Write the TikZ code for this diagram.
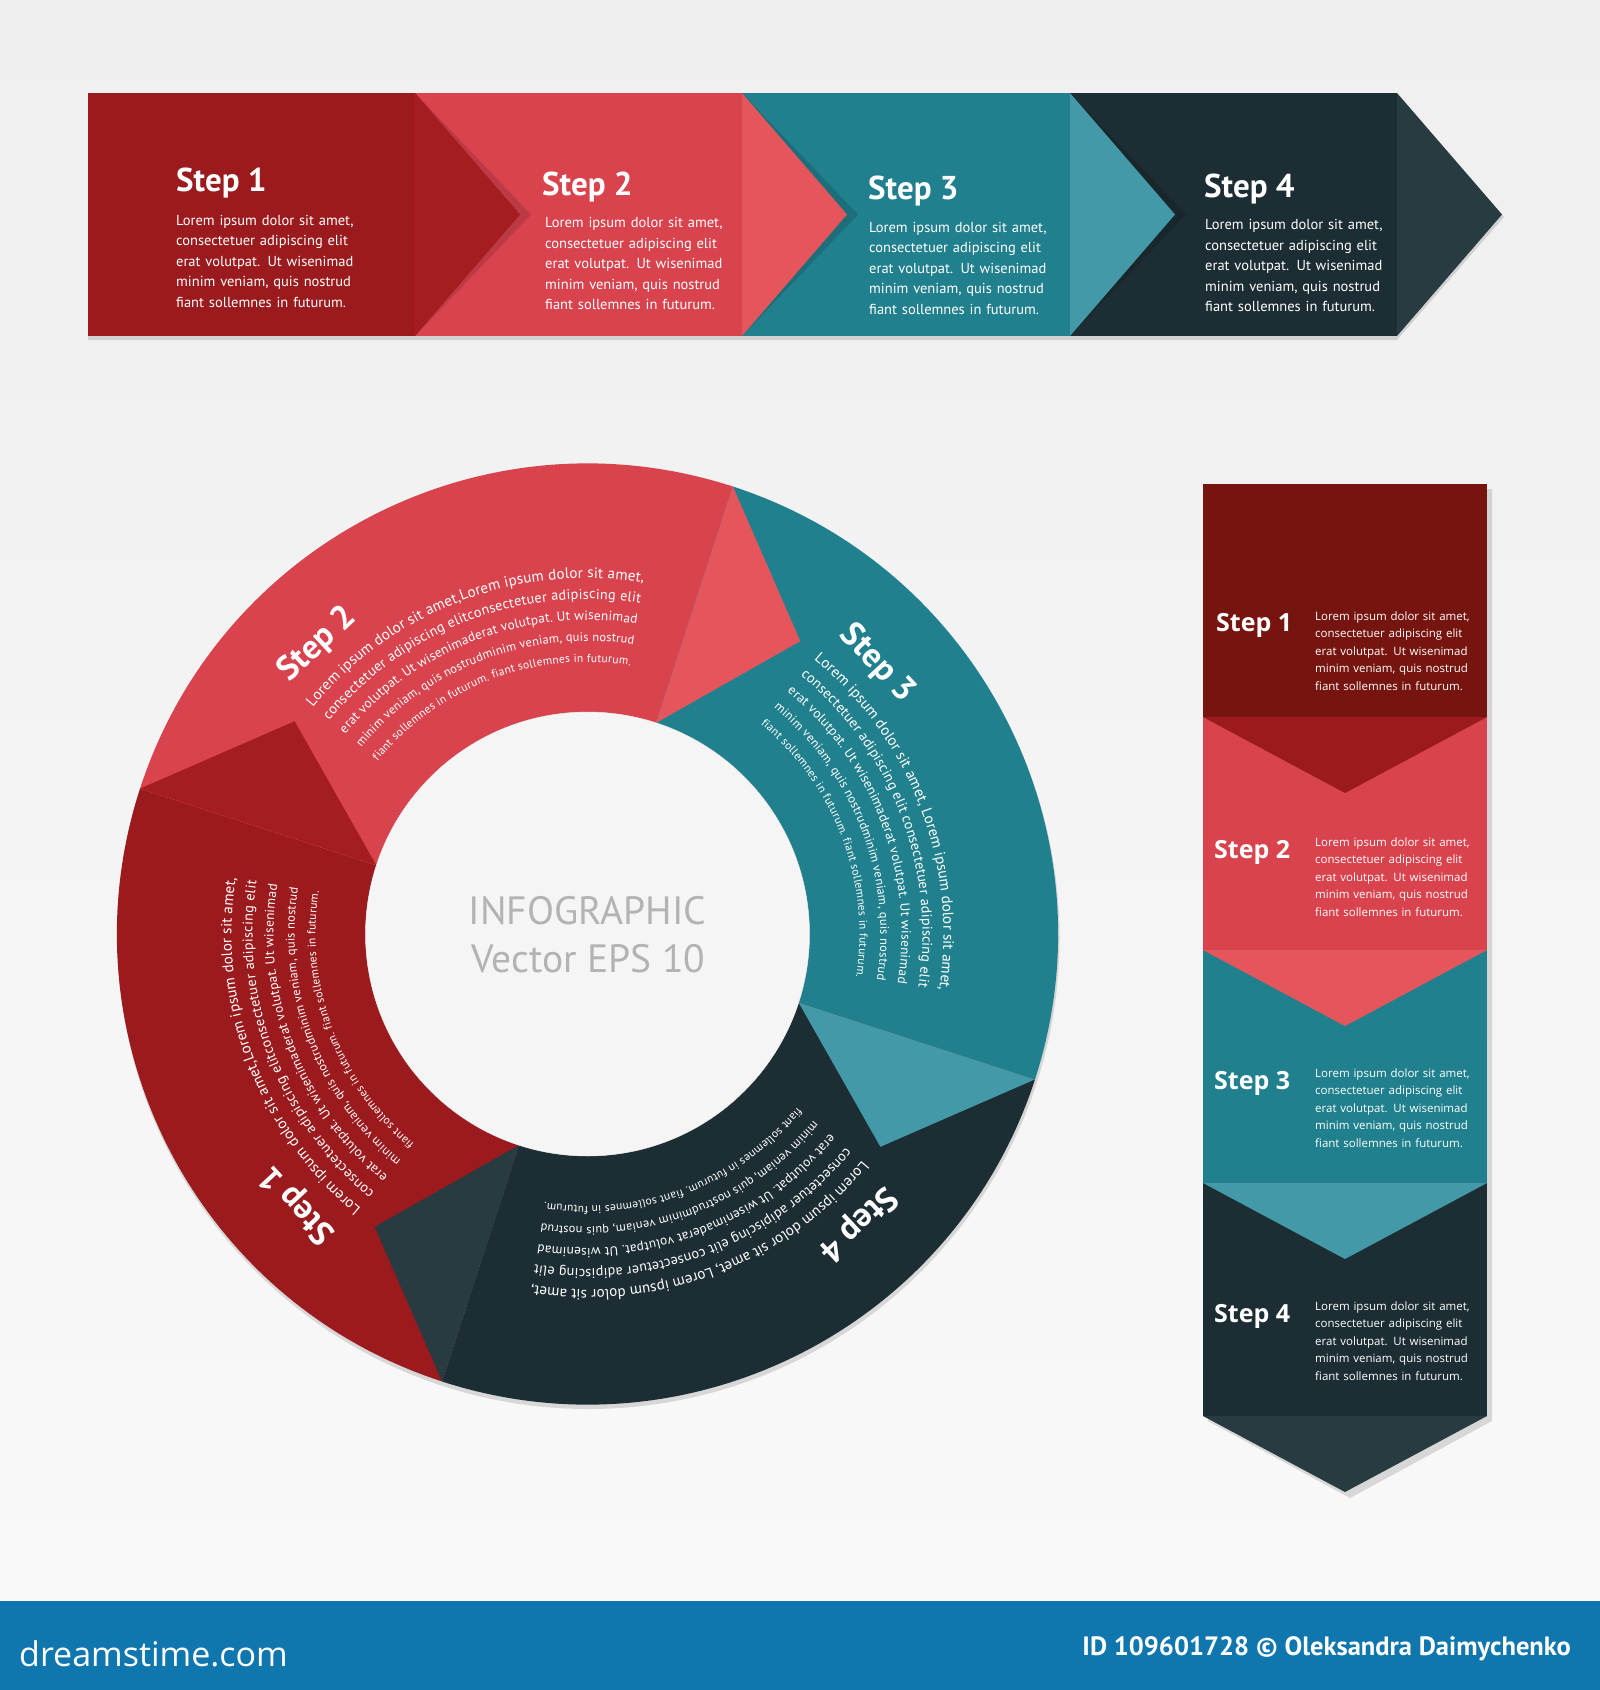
\documentclass[tikz,border=0pt]{standalone}
\usepackage{fontspec}
\setmainfont{PT Sans}
\newfontfamily\ribbonfont{Open Sans}
\usetikzlibrary{decorations.text}

\definecolor{bgtop}{HTML}{EFEFEF}
\definecolor{bgbottom}{HTML}{F9F9F9}
\definecolor{stepred}{HTML}{9B1A1D}
\definecolor{stepredarrow}{HTML}{A51D21}
\definecolor{stepmaroon}{HTML}{76150F}
\definecolor{steppink}{HTML}{D8434E}
\definecolor{steppinkarrow}{HTML}{E5565C}
\definecolor{stepteal}{HTML}{21808D}
\definecolor{steptealarrow}{HTML}{4499A8}
\definecolor{stepdark}{HTML}{1C2D33}
\definecolor{stepdarkarrow}{HTML}{283B40}
\definecolor{footerblue}{HTML}{1076AE}
\definecolor{centergray}{HTML}{B3B3B3}

\newcommand\lorem{Lorem ipsum dolor sit amet,\\consectetuer adipiscing elit\\erat volutpat. Ut wisenimad\\minim veniam, quis nostrud\\fiant sollemnes in futurum.}

\begin{document}
\begin{tikzpicture}[x=1pt,y=1pt,
    bartitle/.style={anchor=base west, inner sep=0pt, text=white, font=\bfseries\fontsize{33}{33}\selectfont},
    barbody/.style={anchor=base west, inner sep=0pt, text=white, text width=220pt, align=left, font=\fontsize{14.5}{20.5}\selectfont},
    ribtitle/.style={anchor=base west, inner sep=0pt, text=white, font=\ribbonfont\bfseries\fontsize{25}{25}\selectfont},
    ribbody/.style={anchor=base west, inner sep=0pt, text=white, text width=180pt, align=left, font=\ribbonfont\fontsize{11.5}{17.6}\selectfont},
    ringlabel/.style={inner sep=0pt, text=white, font=\bfseries\fontsize{34}{34}\selectfont},
    ringtext/.style={decorate, decoration={text along path, text align={fit to path}}},
    shadowgray/.style={fill=black, fill opacity=0.13}]

    % background
    \useasboundingbox (0,0) rectangle (1600,-1690);
    \shade [top color=bgtop, bottom color=bgbottom] (0,0) rectangle (1600,-1601);

    %Shape: Polygon (banner shadow)
    \fill [shadowgray] (88,-97) -- (1397,-97) -- (1504,-217) -- (1397,-340) -- (88,-340) -- cycle;
    %Shape: Rectangle
    \fill [stepred] (88,-93) rectangle (415,-336);
    %Shape: Rectangle
    \fill [steppink] (415,-93) rectangle (742,-336);
    %Shape: Rectangle
    \fill [stepteal] (742,-93) rectangle (1070,-336);
    %Shape: Rectangle
    \fill [stepdark] (1070,-93) rectangle (1397,-336);
    %Shape: Polygon (arrow shadows)
    \fill [shadowgray] (415,-93) -- (531,-214.5) -- (415,-336) -- cycle;
    \fill [shadowgray] (742,-93) -- (858,-214.5) -- (742,-336) -- cycle;
    \fill [shadowgray] (1070,-93) -- (1186,-214.5) -- (1070,-336) -- cycle;
    %Shape: Polygon
    \fill [stepredarrow] (415,-93) -- (520,-214.5) -- (415,-336) -- cycle;
    %Shape: Polygon
    \fill [steppinkarrow] (742,-93) -- (847,-214.5) -- (742,-336) -- cycle;
    %Shape: Polygon
    \fill [steptealarrow] (1070,-93) -- (1175,-214.5) -- (1070,-336) -- cycle;
    %Shape: Polygon
    \fill [stepdarkarrow] (1397,-93) -- (1502,-214.5) -- (1397,-336) -- cycle;

    % Text Node
    \node (bartitle1) [bartitle] at (176,-191) {Step 1};
    % Text Node
    \node (barbody1) [barbody] at (176,-225) {\lorem};
    % Text Node
    \node (bartitle2) [bartitle] at (542,-195) {Step 2};
    % Text Node
    \node (barbody2) [barbody] at (545,-227.5) {\lorem};
    % Text Node
    \node (bartitle3) [bartitle] at (868,-199.5) {Step 3};
    % Text Node
    \node (barbody3) [barbody] at (869,-232) {\lorem};
    % Text Node
    \node (bartitle4) [bartitle] at (1204,-197) {Step 4};
    % Text Node
    \node (barbody4) [barbody] at (1205,-229.5) {\lorem};

    %Shape: Polygon (ribbon shadow)
    \fill [shadowgray] (1208,-489) -- (1492,-489) -- (1492,-1421) -- (1350,-1498) -- (1208,-1421) -- cycle;
    %Shape: Rectangle
    \fill [stepmaroon] (1203,-484) rectangle (1487,-717);
    %Shape: Rectangle
    \fill [steppink] (1203,-717) rectangle (1487,-950);
    %Shape: Rectangle
    \fill [stepteal] (1203,-950) rectangle (1487,-1183);
    %Shape: Rectangle
    \fill [stepdark] (1203,-1183) rectangle (1487,-1416);
    %Shape: Polygon
    \fill [stepred] (1203,-717) -- (1345,-793) -- (1487,-717) -- cycle;
    %Shape: Polygon
    \fill [steppinkarrow] (1203,-950) -- (1345,-1026) -- (1487,-950) -- cycle;
    %Shape: Polygon
    \fill [steptealarrow] (1203,-1183) -- (1345,-1259) -- (1487,-1183) -- cycle;
    %Shape: Polygon
    \fill [stepdarkarrow] (1203,-1416) -- (1345,-1492) -- (1487,-1416) -- cycle;

    % Text Node
    \node (ribtitle1) [ribtitle] at (1216,-631) {Step 1};
    % Text Node
    \node (ribbody1) [ribbody] at (1315,-620) {\lorem};
    % Text Node
    \node (ribtitle2) [ribtitle] at (1214,-858) {Step 2};
    % Text Node
    \node (ribbody2) [ribbody] at (1315,-846) {\lorem};
    % Text Node
    \node (ribtitle3) [ribtitle] at (1214,-1089) {Step 3};
    % Text Node
    \node (ribbody3) [ribbody] at (1315,-1077) {\lorem};
    % Text Node
    \node (ribtitle4) [ribtitle] at (1214,-1322) {Step 4};
    % Text Node
    \node (ribbody4) [ribbody] at (1315,-1310) {\lorem};

    \begin{scope}[shift={(587.5,-934)}]
    %Shape: Circle (ring shadow)
    \fill [shadowgray] (1,-4) circle [radius=471];
    %Shape: Ring sector
    \fill [stepred] (162:470.5) arc [start angle=162, end angle=252, radius=470.5] -- (252:222) arc [start angle=252, end angle=162, radius=222] -- cycle;
    %Shape: Ring sector
    \fill [steppink] (72:470.5) arc [start angle=72, end angle=162, radius=470.5] -- (162:222) arc [start angle=162, end angle=72, radius=222] -- cycle;
    %Shape: Ring sector
    \fill [stepteal] (-18:470.5) arc [start angle=-18, end angle=72, radius=470.5] -- (72:222) arc [start angle=72, end angle=-18, radius=222] -- cycle;
    %Shape: Ring sector
    \fill [stepdark] (-108:470.5) arc [start angle=-108, end angle=-18, radius=470.5] -- (-18:222) arc [start angle=-18, end angle=-108, radius=222] -- cycle;
    %Shape: Polygon
    \fill [stepredarrow] (162:470.5) -- (144:362) -- (162:222) -- cycle;
    %Shape: Polygon
    \fill [steppinkarrow] (72:470.5) -- (54:362) -- (72:222) -- cycle;
    %Shape: Polygon
    \fill [steptealarrow] (-18:470.5) -- (-36:362) -- (-18:222) -- cycle;
    %Shape: Polygon
    \fill [stepdarkarrow] (-108:470.5) -- (-126:362) -- (-108:222) -- cycle;
    %Shape: Circle
    \fill [bgtop!60!white] (0,0) circle [radius=222];
    \draw [black!12] (0,0) circle [radius=222];

    % Text Node
    \node (ringlabel1) [ringlabel, rotate=133] at (223:396) {Step 1};
    % Text Node
    \node (ringlabel2) [ringlabel, rotate=43] at (133:396) {Step 2};
    % Text Node
    \node (ringlabel3) [ringlabel, rotate=-47] at (43:396) {Step 3};
    % Text Node
    \node (ringlabel4) [ringlabel, rotate=-137] at (-47:396) {Step 4};

    % Curved text, step 1
    \path [ringtext, decoration={text={|\color{white}\fontsize{15.1}{16}\selectfont|Lorem ipsum dolor sit amet,Lorem ipsum dolor sit amet,}}] (230.5:356) arc [start angle=230.5, end angle=171, radius=356];
    \path [ringtext, decoration={text={|\color{white}\fontsize{14.2}{15}\selectfont|consectetuer adipiscing elitconsectetuer adipiscing elit}}] (230.5:335) arc [start angle=230.5, end angle=171, radius=335];
    \path [ringtext, decoration={text={|\color{white}\fontsize{13.3}{14}\selectfont|erat volutpat. Ut wisenimaderat volutpat. Ut wisenimad}}] (230.5:314) arc [start angle=230.5, end angle=171, radius=314];
    \path [ringtext, decoration={text={|\color{white}\fontsize{12.4}{13}\selectfont|minim veniam, quis nostrudminim veniam, quis nostrud}}] (230.5:293) arc [start angle=230.5, end angle=171, radius=293];
    \path [ringtext, decoration={text={|\color{white}\fontsize{11.5}{12}\selectfont|fiant sollemnes in futurum. fiant sollemnes in futurum.}}] (230.5:272) arc [start angle=230.5, end angle=171, radius=272];
    % Curved text, step 2
    \path [ringtext, decoration={text={|\color{white}\fontsize{15.1}{16}\selectfont|Lorem ipsum dolor sit amet,Lorem ipsum dolor sit amet,}}] (140.5:356) arc [start angle=140.5, end angle=81, radius=356];
    \path [ringtext, decoration={text={|\color{white}\fontsize{14.2}{15}\selectfont|consectetuer adipiscing elitconsectetuer adipiscing elit}}] (140.5:335) arc [start angle=140.5, end angle=81, radius=335];
    \path [ringtext, decoration={text={|\color{white}\fontsize{13.3}{14}\selectfont|erat volutpat. Ut wisenimaderat volutpat. Ut wisenimad}}] (140.5:314) arc [start angle=140.5, end angle=81, radius=314];
    \path [ringtext, decoration={text={|\color{white}\fontsize{12.4}{13}\selectfont|minim veniam, quis nostrudminim veniam, quis nostrud}}] (140.5:293) arc [start angle=140.5, end angle=81, radius=293];
    \path [ringtext, decoration={text={|\color{white}\fontsize{11.5}{12}\selectfont|fiant sollemnes in futurum. fiant sollemnes in futurum.}}] (140.5:272) arc [start angle=140.5, end angle=81, radius=272];
    % Curved text, step 3
    \path [ringtext, decoration={text={|\color{white}\fontsize{15.1}{16}\selectfont|Lorem ipsum dolor sit amet, Lorem ipsum dolor sit amet,}}] (50.5:356) arc [start angle=50.5, end angle=-9, radius=356];
    \path [ringtext, decoration={text={|\color{white}\fontsize{14.2}{15}\selectfont|consectetuer adipiscing elit consectetuer adipiscing elit}}] (50.5:335) arc [start angle=50.5, end angle=-9, radius=335];
    \path [ringtext, decoration={text={|\color{white}\fontsize{13.3}{14}\selectfont|erat volutpat. Ut wisenimaderat volutpat. Ut wisenimad}}] (50.5:314) arc [start angle=50.5, end angle=-9, radius=314];
    \path [ringtext, decoration={text={|\color{white}\fontsize{12.4}{13}\selectfont|minim veniam, quis nostrudminim veniam, quis nostrud}}] (50.5:293) arc [start angle=50.5, end angle=-9, radius=293];
    \path [ringtext, decoration={text={|\color{white}\fontsize{11.5}{12}\selectfont|fiant sollemnes in futurum. fiant sollemnes in futurum.}}] (50.5:272) arc [start angle=50.5, end angle=-9, radius=272];
    % Curved text, step 4
    \path [ringtext, decoration={text={|\color{white}\fontsize{15.1}{16}\selectfont|Lorem ipsum dolor sit amet, Lorem ipsum dolor sit amet,}}] (-39.5:356) arc [start angle=-39.5, end angle=-99, radius=356];
    \path [ringtext, decoration={text={|\color{white}\fontsize{14.2}{15}\selectfont|consectetuer adipiscing elit consectetuer adipiscing elit}}] (-39.5:335) arc [start angle=-39.5, end angle=-99, radius=335];
    \path [ringtext, decoration={text={|\color{white}\fontsize{13.3}{14}\selectfont|erat volutpat. Ut wisenimaderat volutpat. Ut wisenimad}}] (-39.5:314) arc [start angle=-39.5, end angle=-99, radius=314];
    \path [ringtext, decoration={text={|\color{white}\fontsize{12.4}{13}\selectfont|minim veniam, quis nostrudminim veniam, quis nostrud}}] (-39.5:293) arc [start angle=-39.5, end angle=-99, radius=293];
    \path [ringtext, decoration={text={|\color{white}\fontsize{11.5}{12}\selectfont|fiant sollemnes in futurum. fiant sollemnes in futurum.}}] (-39.5:272) arc [start angle=-39.5, end angle=-99, radius=272];

    % Text Node
    \node (infotitle) [text=centergray, font=\fontsize{39.5}{40}\selectfont] at (0,23) {INFOGRAPHIC};
    % Text Node
    \node (infosub) [text=centergray, font=\fontsize{39.5}{40}\selectfont] at (1,-25) {Vector EPS 10};
    \end{scope}

    % footer
    \fill [footerblue] (0,-1601) rectangle (1600,-1690);
    % Text Node
    \node (logo) [anchor=base west, inner sep=0pt, text=white, font=\ribbonfont\fontsize{34}{34}\selectfont] at (19,-1666) {dreamstime.com};
    % Text Node
    \node (imageid) [anchor=base east, inner sep=0pt, text=white, font=\bfseries\fontsize{26.5}{26.5}\selectfont] at (1571,-1655) {ID 109601728 © Oleksandra Daimychenko};
\end{tikzpicture}
\end{document}
